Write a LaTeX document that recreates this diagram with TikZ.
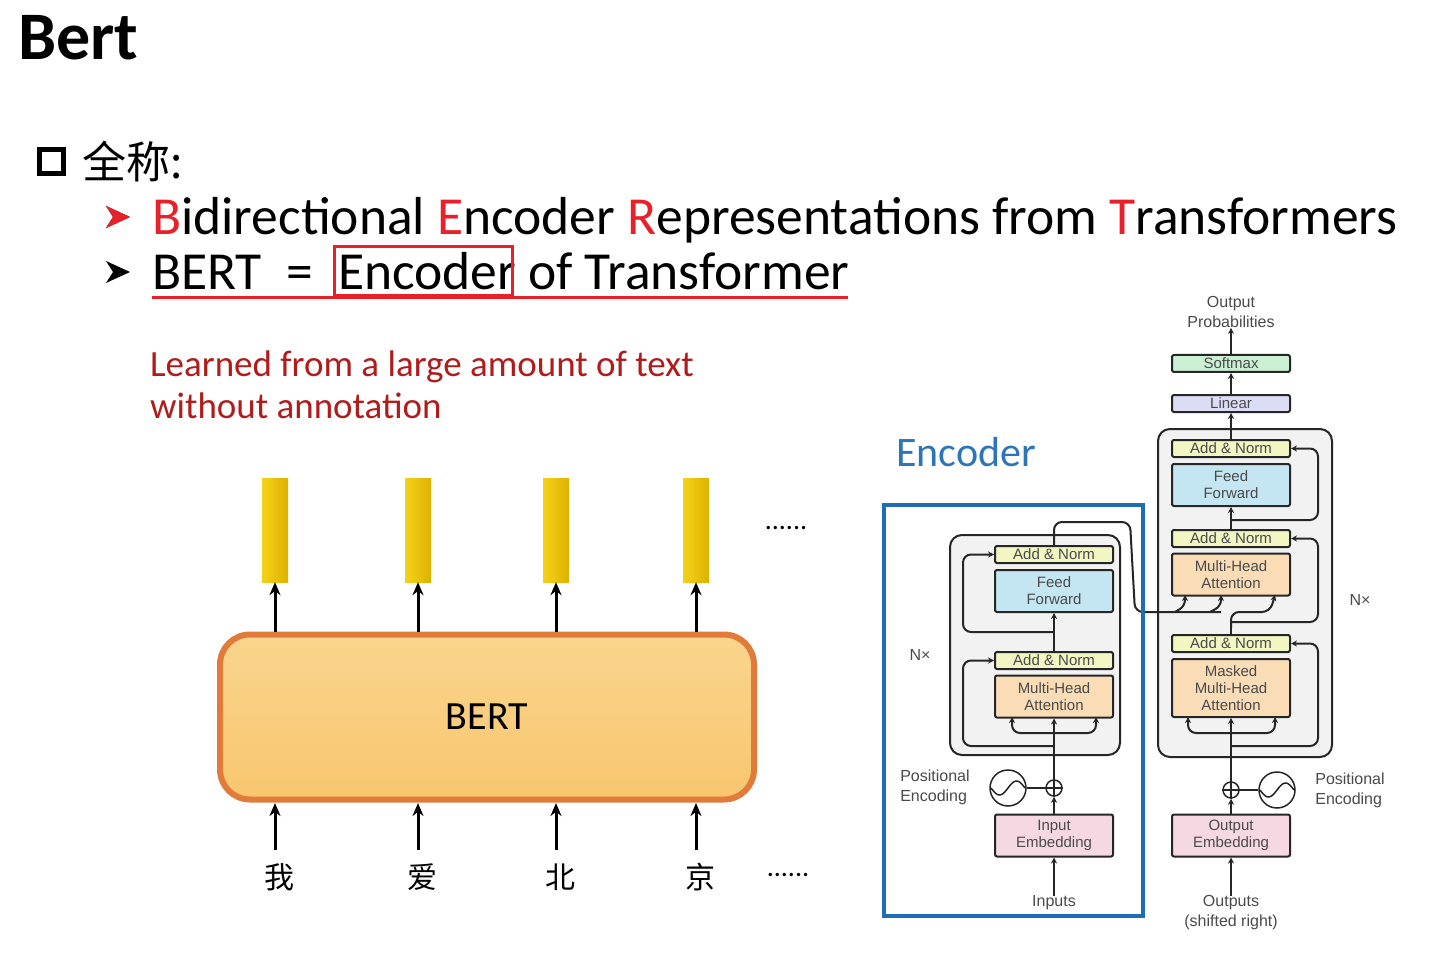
\documentclass[tikz,border=0pt]{standalone}
\usepackage{fontspec}
\setmainfont{Carlito}
\newfontfamily\cjk{Noto Sans CJK SC}
\newfontfamily\dsans{Liberation Sans}
\usetikzlibrary{arrows.meta}
\definecolor{tred}{HTML}{E8202A}
\definecolor{dred}{HTML}{B01C1C}
\definecolor{eblue}{HTML}{2E75B6}
\definecolor{bblue}{HTML}{1F6EB5}
\definecolor{an}{HTML}{F1F6C2}
\definecolor{ff}{HTML}{C3E6F2}
\definecolor{mh}{HTML}{FADDB6}
\definecolor{em}{HTML}{F6D8E2}
\definecolor{lin}{HTML}{DCDCF4}
\definecolor{sm}{HTML}{CBEFD3}
\definecolor{txt}{HTML}{4A4A4A}
\definecolor{bord}{HTML}{E07B39}
\definecolor{bfillt}{HTML}{FAD58E}
\definecolor{bfillb}{HTML}{F8C66E}
\definecolor{barl}{HTML}{F5D21A}
\definecolor{barr}{HTML}{DDB200}
\tikzset{
 fs/.style={node font=\fontsize{#1}{#1}\selectfont},
 blk/.style={draw=black!85, line width=2pt, rounded corners=2pt, minimum width=118pt, inner sep=0pt, align=center, text=txt, font=\dsans\fontsize{15}{17}\selectfont},
 an/.style={blk, fill=an, minimum height=17pt},
 big/.style={blk, minimum height=42pt},
 ln/.style={line width=2pt, black!85},
 ar/.style={ln, -{Stealth[length=6pt,width=6pt]}},
 gray/.style={draw=black!85, line width=2pt, fill=black!5, rounded corners=12pt},
 lbl/.style={text=txt, font=\dsans\fontsize{16}{20}\selectfont, align=center, inner sep=0pt},
 bar/.style={left color=barl, right color=barr, draw=none, minimum width=26pt, minimum height=104pt, inner sep=0pt},
 up/.style={line width=3pt, -{Stealth[length=13pt,width=11pt]}},
 bul/.pic={\fill (-12,-11) -- (12,0) -- (-12,11) -- (-5,0) -- cycle;},
}
\begin{document}
\begin{tikzpicture}[x=1pt,y=-1pt]
\useasboundingbox[fill=white] (0,0) rectangle (1456,973);
% title
\node[anchor=base west, inner sep=0pt, fs=68, font=\bfseries] (title) at (18,60) {Bert};
\node[draw, line width=5pt, minimum size=24pt, inner sep=0pt] (sq) at (51,162) {};
\node[anchor=west, inner sep=0pt, fs=44, font=\cjk] (qc) at (82,162) {全称:};
\pic at (118,217) {bul};
\pic[tred] at (118,217) {bul};
\pic at (118,272) {bul};
\node[anchor=base west, inner sep=0pt, fs=53.5] (l1) at (152,235) {\textcolor{tred}{B}idirectional \textcolor{tred}{E}ncoder \textcolor{tred}{R}epresentations from \textcolor{tred}{T}ransformers};
\node[anchor=base west, inner sep=0pt, fs=53.5] (l2a) at (152,290) {BERT\ \ =};
\node[anchor=base west, inner sep=0pt, fs=53.5] (l2b) at (338,290) {Encoder};
\node[anchor=base west, inner sep=0pt, fs=53.5] (l2c) at (528,290) {of Transformer};
\draw[tred, line width=3pt] (152,298) -- (848,298);
\draw[tred, line width=3pt] (334,247) rectangle (512,296);
\node[anchor=base west, inner sep=0pt, fs=37, text=dred] (red1) at (150,377) {Learned from a large amount of text};
\node[anchor=base west, inner sep=0pt, fs=37, text=dred] (red2) at (150,418) {without annotation};
% BERT
\node[draw=bord, line width=6pt, rounded corners=30pt, top color=bfillt, bottom color=bfillb, minimum width=534pt, minimum height=165pt, fs=40] (bert) at (487,717) {BERT};
\foreach \x/\c [count=\i] in {275/我,418/爱,556/北,696/京}{
 \node[bar] (bar\i) at (\x,530) {};
 \draw[up] (\x,632) -- (bar\i.south);
 \node[font=\cjk, fs=30, inner sep=0pt] (ch\i) at (\x+4,877) {\c};
 \draw[up] (\x,850) -- (\x,803);
}
\node[fs=28, inner sep=0pt] (dots1) at (786,528) {......};
\node[fs=28, inner sep=0pt] (dots2) at (788,875) {......};
% encoder label & box
\node[anchor=base west, inner sep=0pt, fs=42, text=eblue] (enc) at (896,466) {Encoder};
% ---------- encoder
\draw[gray] (950,535) rectangle (1120,755);
\node[an] (ean2) at (1054,554.5) {Add \& Norm};
\node[big, fill=ff] (eff) at (1054,591) {Feed\\Forward};
\node[an] (ean1) at (1054,660.5) {Add \& Norm};
\node[big, fill=mh] (emh) at (1054,696.5) {Multi-Head\\Attention};
\node[big, fill=em] (eem) at (1054,835.5) {Input\\Embedding};
\node[draw=black!85, line width=1.5pt, circle, minimum size=16pt, inner sep=0pt] (ep) at (1054,788) {};
\draw[ln, line width=1.2pt] (ep.north)--(ep.south) (ep.west)--(ep.east);
\node[draw=black!85, line width=1.5pt, circle, minimum size=36pt, inner sep=0pt] (es) at (1008,788) {};
\draw[ln,line width=1.5pt] plot[domain=-1:1,samples=30] ({1008+\x*17},{788-7*sin(\x*180)});
\draw[ln] (es.east) -- (ep.west);
\node[lbl] (inp) at (1054,903) {Inputs};
\node[lbl] (enx) at (920,655) {N×};
\node[lbl, align=left] (epe) at (935,787) {Positional\\Encoding};
\draw[ar] (inp.north) -- (eem.south);
\draw[ar] (eem.north) -- (ep.south);
\draw[ar] (ep.north) -- (emh.south);
\draw[ar, rounded corners=8pt] (1054,733) -- (1012,733) -- (1012,717);
\draw[ar, rounded corners=8pt] (1054,733) -- (1096,733) -- (1096,717);
\draw[ar, rounded corners=8pt] (1054,746) -- (963,746) -- (963,660.5) -- (ean1.west);
\draw[ar] (ean1.north) -- (eff.south);
\draw[ar, rounded corners=8pt] (1054,632) -- (963,632) -- (963,554.5) -- (ean2.west);
% ---------- decoder
\draw[gray] (1158,429) rectangle (1332,757);
\node[an] (dan3) at (1231,448.5) {Add \& Norm};
\node[big, fill=ff] (dff) at (1231,485) {Feed\\Forward};
\node[an] (dan2) at (1231,538.5) {Add \& Norm};
\node[big, fill=mh] (dmh) at (1231,574.5) {Multi-Head\\Attention};
\node[an] (dan1) at (1231,643.5) {Add \& Norm};
\node[blk, fill=mh, minimum height=58pt] (dmm) at (1231,688) {Masked\\Multi-Head\\Attention};
\node[big, fill=em] (dem) at (1231,835.5) {Output\\Embedding};
\node[blk, fill=lin, minimum height=17pt] (lin) at (1231,403.5) {Linear};
\node[blk, fill=sm, minimum height=17pt] (smx) at (1231,363.5) {Softmax};
\node[lbl] (op) at (1231,312) {Output\\Probabilities};
\node[lbl] (outs) at (1231,913) {Outputs\\(shifted right)};
\node[lbl] (dnx) at (1360,600) {N×};
\node[lbl, align=left] (dpe) at (1350,790) {Positional\\Encoding};
\node[draw=black!85, line width=1.5pt, circle, minimum size=16pt, inner sep=0pt] (dp) at (1231,790) {};
\draw[ln, line width=1.2pt] (dp.north)--(dp.south) (dp.west)--(dp.east);
\node[draw=black!85, line width=1.5pt, circle, minimum size=36pt, inner sep=0pt] (ds) at (1277,790) {};
\draw[ln,line width=1.5pt] plot[domain=-1:1,samples=30] ({1277+\x*17},{790-7*sin(\x*180)});
\draw[ln] (ds.west) -- (dp.east);
\draw[ar] (outs.north) -- (dem.south);
\draw[ar] (dem.north) -- (dp.south);
\draw[ar] (dp.north) -- (dmm.south);
\draw[ar, rounded corners=8pt] (1231,733) -- (1188,733) -- (1188,717);
\draw[ar, rounded corners=8pt] (1231,733) -- (1275,733) -- (1275,717);
\draw[ar, rounded corners=8pt] (1231,746) -- (1318,746) -- (1318,643.5) -- (dan1.east);
\draw[ln] (dan1.north) -- (1231,622);
\draw[ar, rounded corners=8pt] (1231,628) -- (1231,612) -- (1270,612) -- (1275,595);
\draw[ar, rounded corners=8pt] (1231,622) -- (1318,622) -- (1318,538.5) -- (dan2.east);
\draw[ar] (dan2.north) -- (dff.south);
\draw[ar, rounded corners=8pt] (1231,520) -- (1318,520) -- (1318,448.5) -- (dan3.east);
\draw[ar] (dan3.north) -- (lin.south);
\draw[ar] (lin.north) -- (smx.south);
\draw[ar] (smx.north) -- (op.south);
% encoder -> decoder
\draw[ln, rounded corners=8pt] (ean2.north) -- (1054,522) -- (1130,522) -- (1135,612) -- (1221,612);
\draw[ar, rounded corners=6pt] (1175,612) -- (1185,606) -- (1185,595);
\draw[ar, rounded corners=6pt] (1210,612) -- (1221,606) -- (1221,595);
% blue box on top
\draw[bblue, line width=4pt] (884,505) rectangle (1143,916);
\end{tikzpicture}
\end{document}
